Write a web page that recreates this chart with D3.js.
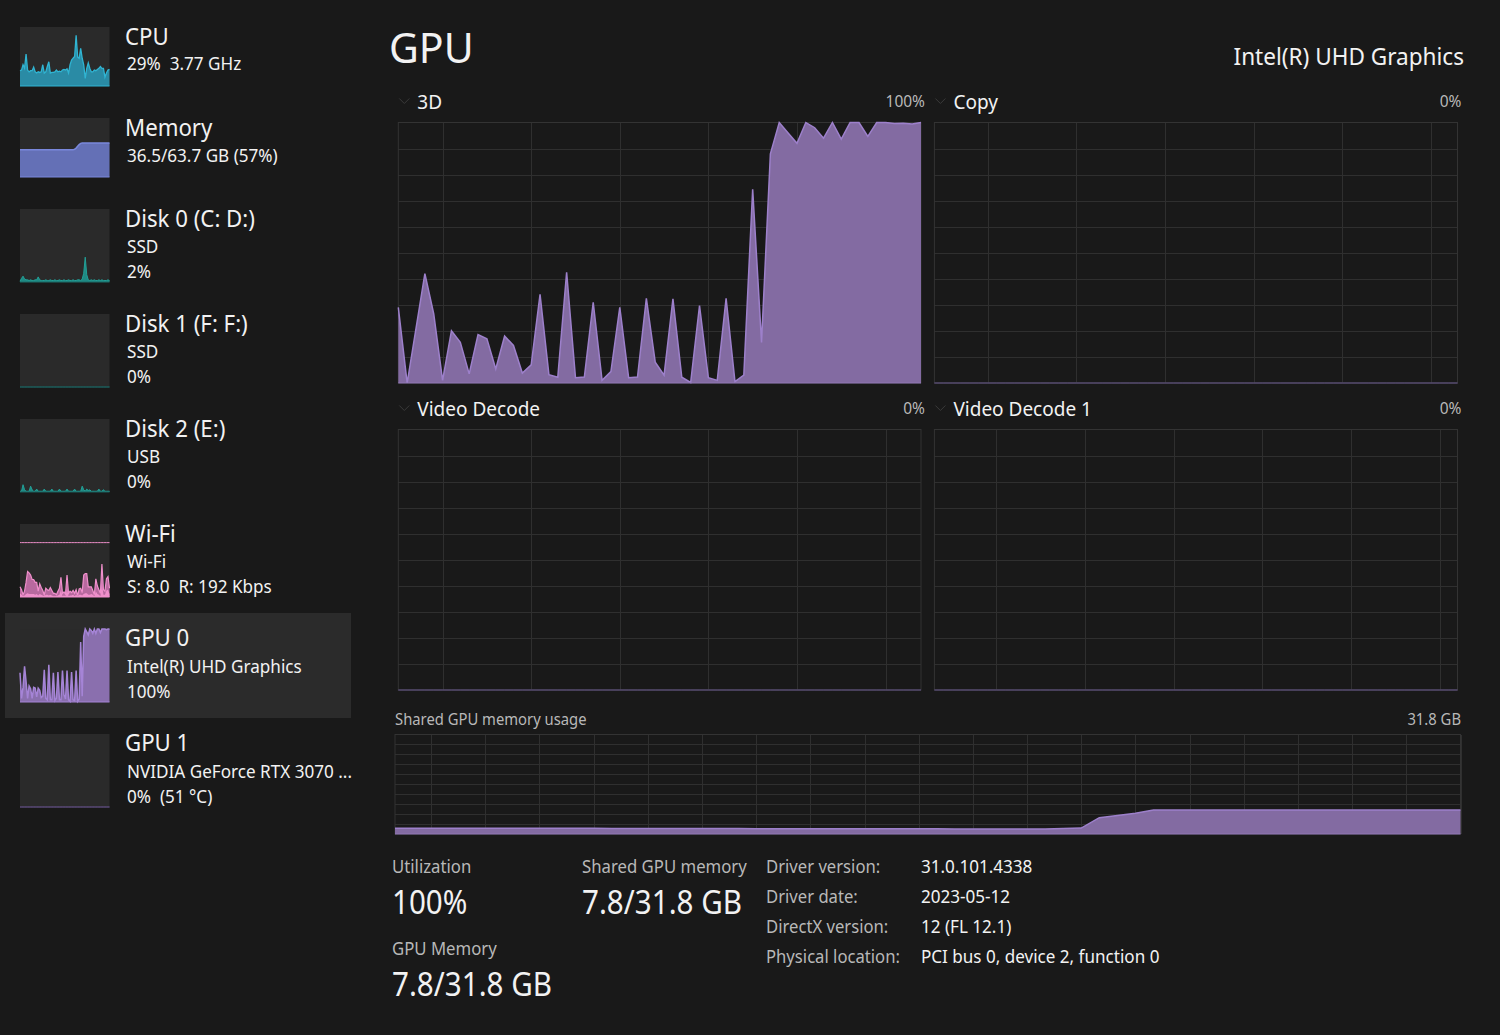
<!DOCTYPE html>
<html>
<head>
<meta charset="utf-8">
<script src="https://cdn.jsdelivr.net/npm/d3@7"></script>
<style>
  html, body { margin: 0; padding: 0; background: #191919; }
  svg { display: block; }
  text { font-family: "Noto Sans", "Open Sans", sans-serif; fill: #f2f2f2; white-space: pre; }
  .muted { fill: #b8b8b8; }
  .grid line { stroke: #2f2f2f; stroke-width: 1; shape-rendering: crispEdges; }
  .grid path { display: none; }
</style>
</head>
<body>
<svg id="chart" width="1500" height="1035"></svg>
<script>
// values, all in percent of the graph height
const gpu3d = [29,0,21,42,26.5,1,20,15.6,3.5,18.6,17,5.4,18,14.4,3.8,7,34,3.2,2.2,42.5,
  2,2.3,31,1,4.4,29,2,2.3,32.5,8,3,32.3,2.2,0.2,29.7,2,1,32.5,0.5,3,
  74.4,15.6,88,100,96,92,100,98,94,100,93.6,100,100,94.7,100,100,99.6,99.7,99.4,100];
const sharedMemory = [5.7,5.7,5.7,5.7,5.7,5.7,5.7,5.7,5.7,5.7,5.7,5.7,5.6,5.6,5.6,5.5,5.5,5.5,5.5,5.5,
  5.4,5.4,5.4,5.4,5.3,5.3,5.3,5.2,5.2,5.2,5.2,5.1,5.1,5.1,5,5,5,5.5,6,16.4,
  18.6,20.8,24.2,24.2,24.2,24.2,24.2,24.2,24.2,24.2,24.2,24.2,24.2,24.2,24.2,24.2,24.2,24.2,24.2,24.2];
const zeroSeries = d3.range(60).map(() => 0);

const cpuValues = [26,27,36,30,54,27,24,26,26,32,24,22,24,23,24,36,22,24,33,41,
  22,23,23,24,27,24,25,24,27,28,27,29,22,36,44,47,50,86,49,47,
  64,47,36,13,30,39,30,24,24,27,26,28,30,33,30,30,15,22,27,28];
const memoryValues = [46,46,46,46,46,46,46,46,46,46,46,46,46,46,46,46,46,46,46,46,
  46,46,46,46,46,46,46,46,46,46,46,46,46,46,46,46,47,49,52,55,
  57,57.5,57.5,57.5,57.5,57.5,57.5,57.5,57.5,57.5,57.5,57.5,57.5,57.5,57.5,57.5,57.5,57.5,57.5,57.5];
const disk0Values = [1,5,8,4,3,3,2,3,2,2,3,3,7,3,2,2,2,3,2,2,
  3,2,2,3,2,2,3,2,2,3,2,2,3,2,2,3,2,2,3,3,2,4,12,34,10,3,2,3,2,3,2,2,3,2,3,2,2,2,3,2];
const disk1Values = zeroSeries;
const disk2Values = [1,1,10,3,1,1,1,8,3,1,1,4,1,1,1,1,4,1,1,1,
  1,4,1,1,1,1,4,1,1,1,1,4,1,1,1,1,4,1,1,1,
  1,8,3,1,4,2,3,1,1,1,1,1,4,1,1,3,1,1,1,1];
const wifiValues = [14,10,3,8,20,35,33,30,24,24,20,20,8,18,13,9,3,12,10,9,
  13,9,5,5,3,8,12,27,5,7,4,30,5,8,6,9,5,10,2,11,
  12,6,30,32,32,14,14,14,9,3,25,15,10,5,45,10,8,25,28,12];
const wifiSendValues = d3.range(60).map(() => 74.5);
const wifiInnerValues = [5,3,1,2,4,5,4,4,4,4,3,4,2,4,3,2,1,3,3,2,
  3,2,1,1,1,2,3,10,1,2,1,12,1,2,2,3,1,3,1,3,
  3,2,4,5,5,3,3,4,3,1,8,4,3,1,20,3,3,9,10,4];
const gpu0Values = [40,5,20,49,28,5,22,18,5,20,19,7,19,16,6,8,44,5,3,51,
  3,3,40,2,5,41,3,3,43,10,4,43,3,1,41,3,2,43,1,4,
  82,8,90,100,96,92,100,98,94,100,94,100,100,95,100,100,100,99,100,100];
const gpu1Values = zeroSeries;

const rowNames = ['CPU','Memory','Disk 0 (C: D:)','Disk 1 (F: F:)','Disk 2 (E:)','Wi-Fi','GPU 0','GPU 1'];
const rowLine1 = ['29%  3.77 GHz','36.5/63.7 GB (57%)','SSD','SSD','USB','Wi-Fi','Intel(R) UHD Graphics','NVIDIA GeForce RTX 3070 ...'];
const rowLine2 = ['','','2%','0%','0%','S: 8.0  R: 192 Kbps','100%','0%  (51 °C)'];
const rowSeries = [cpuValues,memoryValues,disk0Values,disk1Values,disk2Values,wifiValues,gpu0Values,gpu1Values];

const panelTitles = ['3D','Copy','Video Decode','Video Decode 1'];
const panelValues = ['100%','0%','0%','0%'];
const panelSeries = [gpu3d,zeroSeries,zeroSeries,zeroSeries];
const panelGridStart = [5,6,5,7];

const statLabels = ['Utilization','Shared GPU memory','GPU Memory'];
const statValues = ['100%','7.8/31.8 GB','7.8/31.8 GB'];
const driverLabels = ['Driver version:','Driver date:','DirectX version:','Physical location:'];
const driverValues = ['31.0.101.4338','2023-05-12','12 (FL 12.1)','PCI bus 0, device 2, function 0'];

const svg = d3.select('#chart');
svg.append('rect').attr('width', 1500).attr('height', 1035).attr('fill', '#191919');

// Noto Sans runs wider than the font in the screenshot, so squeeze it a bit
function label(x, y, str, size, cls, anchor, squeeze) {
    const t = svg.append('text')
        .attr('x', x).attr('y', y)
        .attr('font-size', size)
        .attr('class', cls || null)
        .attr('text-anchor', anchor || 'start')
        .text(str);
    const w = t.node().getComputedTextLength();
    t.attr('textLength', w * (squeeze || 0.945)).attr('lengthAdjust', 'spacingAndGlyphs');
    return t;
}

function chevron(x, y) {
    svg.append('path')
        .attr('d', d3.line()([[x, y], [x + 5, y + 5], [x + 10, y]]))
        .attr('fill', 'none').attr('stroke', '#3a3a3a');
}

// one graph: background grid, filled area and the brighter line on top
function drawGraph(box, values, colors, xGrid, yGrid) {
    const x = d3.scaleLinear().domain([0, values.length - 1]).range([box.x0, box.x1]);
    const y = d3.scaleLinear().domain([0, 100]).range([box.y1, box.y0]);
    const g = svg.append('g');

    if (xGrid) {
        g.append('g').attr('class', 'grid').attr('transform', `translate(0,${box.y1})`)
            .call(d3.axisBottom(x).tickValues(xGrid).tickSize(box.y0 - box.y1).tickFormat(''));
        g.append('g').attr('class', 'grid').attr('transform', `translate(${box.x0},0)`)
            .call(d3.axisLeft(y).tickValues(yGrid).tickSize(box.x0 - box.x1).tickFormat(''));
        g.append('rect')
            .attr('x', box.x0).attr('y', box.y0)
            .attr('width', box.x1 - box.x0).attr('height', box.y1 - box.y0)
            .attr('fill', 'none').attr('stroke', '#333333');
    }

    g.append('path')
        .attr('d', d3.area().x((d, i) => x(i)).y0(box.y1).y1(d => y(d))(values))
        .attr('fill', colors.fill);
    g.append('path')
        .attr('d', d3.line().x((d, i) => x(i)).y(d => y(d))(values))
        .attr('fill', 'none').attr('stroke', colors.line).attr('stroke-width', colors.width || 1.5);
    g.append('line')
        .attr('x1', box.x0).attr('x2', box.x1)
        .attr('y1', box.y1).attr('y2', box.y1)
        .attr('stroke', colors.base || colors.line);
    return { x, y, g };
}

/* sidebar */
const rowBoxes = [[27,86],[118,177],[209,282],[314,387],[419,492],[524,597],[629,702],[734,807]];
const rowNameY = [45,136,227,332,437,542,646,751];
const rowLine1Y = [70,162,253,358,463,568,673,778];
const rowLine2Y = [0,0,278,383,488,593,698,803];
const rowColors = [
    { fill: '#2a8ba5', line: '#30b4d2', width: 1.3 },
    { fill: '#6470b6', line: '#7a88dc' },
    { fill: '#1f8a84', line: '#22a097', base: '#1d6f6b', width: 1 },
    { fill: '#1f8a84', line: '#1d5f5c', base: '#1d5f5c', width: 1 },
    { fill: '#1f8a84', line: '#22a097', base: '#1d5f5c', width: 1 },
    { fill: '#b8699f', line: '#ef8fcb', width: 1.2 },
    { fill: '#8a6fae', line: '#a584d6', width: 1.5 },
    { fill: '#7a62a0', line: '#5a4a78', base: '#5a4a78', width: 1 }
];

svg.append('rect').attr('x', 5).attr('y', 613).attr('width', 346).attr('height', 105).attr('fill', '#2b2b2b');

rowSeries.forEach((values, i) => {
    const box = { x0: 20, x1: 109.5, y0: rowBoxes[i][0], y1: rowBoxes[i][1] };
    svg.append('rect')
        .attr('x', box.x0).attr('y', box.y0)
        .attr('width', box.x1 - box.x0).attr('height', box.y1 - box.y0)
        .attr('fill', '#2a2a2a');
    const graph = drawGraph(box, values, rowColors[i]);
    if (values === wifiValues) {
        graph.g.append('path')
            .attr('d', d3.line().x((d, j) => graph.x(j)).y(d => graph.y(d))(wifiSendValues))
            .attr('fill', 'none').attr('stroke', '#ef8fcb').attr('stroke-width', 1);
        graph.g.append('path')
            .attr('d', d3.area().x((d, j) => graph.x(j)).y0(box.y1).y1(d => graph.y(d))(wifiInnerValues))
            .attr('fill', '#ef8fcb');
    }
    label(125, rowNameY[i], rowNames[i], 23.5);
    label(127, rowLine1Y[i], rowLine1[i], 18, null, null, 0.95);
    if (rowLine2[i]) label(127, rowLine2Y[i], rowLine2[i], 18, null, null, 0.95);
});

/* title */
label(389, 63, 'GPU', 41, null, null, 1);
label(1464, 65, 'Intel(R) UHD Graphics', 24, null, 'end', 0.94);

/* four engine panels */
const panelX = [[398.3,921],[934.4,1457.5],[398.3,921],[934.4,1457.5]];
const panelY = [[122.5,383],[122.5,383],[429.5,690],[429.5,690]];
const bigColors = { fill: '#836ba2', line: '#9d80cb', base: '#9079b5' };
const idleColors = { fill: '#836ba2', line: '#544a6e', base: '#544a6e', width: 1 };

panelSeries.forEach((values, i) => {
    const box = { x0: panelX[i][0], x1: panelX[i][1], y0: panelY[i][0], y1: panelY[i][1] };
    drawGraph(box, values, i === 0 ? bigColors : idleColors,
        d3.range(panelGridStart[i], 60, 10), d3.range(10, 100, 10));
    chevron(box.x0 + 1, box.y0 - 24);
    label(box.x0 + 19, box.y0 - 14, panelTitles[i], 20, null, null, 0.95);
    label(box.x1 + 4, box.y0 - 16, panelValues[i], 16.4, 'muted', 'end');
});

/* shared memory graph */
drawGraph({ x0: 395, x1: 1460.5, y0: 734.5, y1: 834 }, sharedMemory, bigColors,
    d3.range(2, 60, 3), d3.range(10, 100, 10));
label(395, 725, 'Shared GPU memory usage', 16, 'muted', null, 0.925);
label(1461, 725, '31.8 GB', 16, 'muted', 'end', 0.925);

/* stats block */
const statX = [392, 582, 392];
const statLabelY = [873, 873, 955];
const statValueY = [914, 914, 996];
statLabels.forEach((s, i) => {
    label(statX[i], statLabelY[i], s, 18, 'muted', null, 0.93);
    label(statX[i], statValueY[i], statValues[i], 32, null, null, 0.925);
});

driverLabels.forEach((s, i) => {
    label(766, 873 + i * 30, s, 18, 'muted', null, 0.925);
    label(921, 873 + i * 30, driverValues[i], 18, null, null, 0.948);
});
</script>
</body>
</html>
